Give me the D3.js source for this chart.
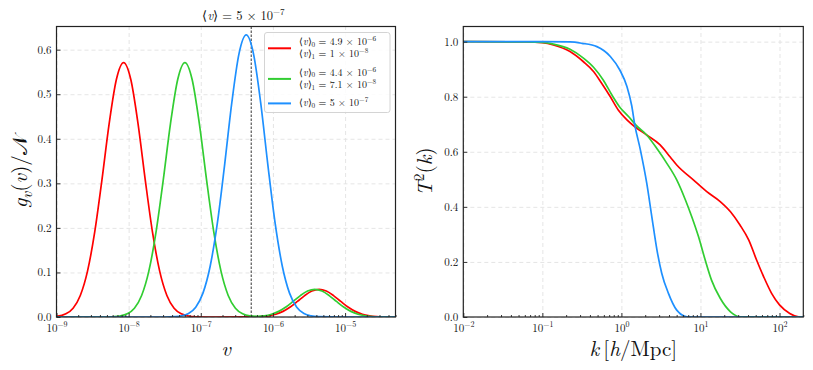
<!DOCTYPE html>
<html>
<head>
<title>Velocity distributions and transfer functions</title>
<script src="https://d3js.org/d3.v7.min.js"></script>
<style>
  body { margin: 0; background: #fff; }
  svg text { font-family: "Latin Modern Roman", "CMU Serif", "Liberation Serif", serif; fill: #111; }
  .grid line { stroke: #e2e2e2; stroke-dasharray: 4,3; stroke-width: 0.9; }
  .grid path, .axis path { display: none; }
  .axis line { stroke: #222; stroke-width: 0.9; }
  .frame { fill: none; stroke: #222; stroke-width: 1.2; }
  .curve { fill: none; stroke-width: 1.7; }
</style>
</head>
<body>
<svg width="813" height="370"></svg>
<script>
// ---- left panel: g_v(v)/N against v (log10 v) ----
var vTickExps = [-9, -8, -7, -6, -5];
var gTicks = [0, 0.1, 0.2, 0.3, 0.4, 0.5, 0.6];
var vLimits = [1e-9, 5e-5];
var gLimits = [0, 0.652];
var vMean = 5e-7;

var redLogV = [-9.0, -8.87, -8.77, -8.67, -8.57, -8.47, -8.37, -8.27, -8.17, -8.07, -7.97, -7.87, -7.77, -7.67, -7.57, -7.47, -7.37, -7.27, -7.17, -7.07, -6.8, -6.36, -6.26, -6.16, -6.06, -5.96, -5.86, -5.76, -5.66, -5.56, -5.46, -5.36, -5.26, -5.16, -5.06, -4.96, -4.86, -4.76, -4.66, -4.56, -4.46, -4.36, -4.3];
var redG = [0.0015, 0.0071, 0.0198, 0.0484, 0.103, 0.191, 0.308, 0.434, 0.533, 0.571, 0.533, 0.434, 0.308, 0.191, 0.103, 0.0484, 0.0198, 0.0071, 0.0022, 0.0006, 0, 0.0001, 0.0004, 0.0010, 0.0027, 0.0062, 0.0126, 0.0223, 0.0349, 0.0481, 0.0582, 0.062, 0.0582, 0.0481, 0.0349, 0.0223, 0.0126, 0.0062, 0.0027, 0.0010, 0.0004, 0.0001, 0];

var greenLogV = [-9.0, -8.3, -8.22, -8.12, -8.02, -7.92, -7.82, -7.72, -7.62, -7.52, -7.42, -7.32, -7.22, -7.12, -7.02, -6.92, -6.82, -6.72, -6.62, -6.52, -6.42, -6.32, -6.22, -6.12, -6.02, -5.92, -5.82, -5.72, -5.62, -5.52, -5.42, -5.32, -5.22, -5.12, -5.02, -4.92, -4.82, -4.72, -4.62, -4.52, -4.42, -4.3];
var greenG = [0, 0, 0.0006, 0.0022, 0.0071, 0.0198, 0.0484, 0.103, 0.191, 0.308, 0.434, 0.533, 0.571, 0.533, 0.434, 0.308, 0.191, 0.103, 0.0484, 0.0198, 0.0071, 0.0026, 0.0016, 0.0027, 0.0062, 0.0126, 0.0223, 0.0349, 0.0481, 0.0582, 0.062, 0.0582, 0.0481, 0.0349, 0.0223, 0.0126, 0.0062, 0.0027, 0.0010, 0.0004, 0.0001, 0];

var blueLogV = [-9.0, -7.5, -7.37, -7.27, -7.17, -7.07, -6.97, -6.87, -6.77, -6.67, -6.57, -6.47, -6.37, -6.27, -6.17, -6.07, -5.97, -5.87, -5.77, -5.67, -5.57, -5.47, -5.37, -5.0, -4.3];
var blueG = [0, 0, 0.0007, 0.0024, 0.0078, 0.022, 0.0536, 0.114, 0.211, 0.341, 0.481, 0.591, 0.633, 0.591, 0.481, 0.341, 0.211, 0.114, 0.0536, 0.022, 0.0078, 0.0024, 0.0007, 0, 0];

// ---- right panel: T^2(k) against k [h/Mpc] ----
var kTickExps = [-2, -1, 0, 1, 2];
var tTicks = [0, 0.2, 0.4, 0.6, 0.8, 1.0];
var kLimits = [1e-2, 200];
var tLimits = [0, 1.055];

var redLogK = [-2.0, -1.2, -1.0, -0.86, -0.65, -0.48, -0.35, -0.25, -0.14, -0.04, 0.07, 0.17, 0.32, 0.49, 0.62, 0.70, 0.91, 1.08, 1.25, 1.38, 1.50, 1.61, 1.71, 1.80, 1.90, 2.0, 2.13, 2.24, 2.3];
var redT = [1.0, 0.999, 0.996, 0.988, 0.964, 0.927, 0.891, 0.849, 0.800, 0.752, 0.716, 0.691, 0.661, 0.625, 0.58, 0.552, 0.498, 0.455, 0.419, 0.382, 0.334, 0.280, 0.207, 0.146, 0.086, 0.044, 0.013, 0.001, 0];

var greenLogK = [-2.0, -1.2, -1.0, -0.86, -0.65, -0.48, -0.35, -0.23, -0.12, -0.02, 0.09, 0.19, 0.32, 0.46, 0.575, 0.70, 0.81, 0.89, 0.975, 1.06, 1.14, 1.25, 1.38, 1.5, 2.3];
var greenT = [1.0, 0.999, 0.997, 0.991, 0.972, 0.940, 0.906, 0.861, 0.806, 0.762, 0.728, 0.695, 0.661, 0.607, 0.558, 0.498, 0.425, 0.364, 0.292, 0.207, 0.134, 0.068, 0.019, 0.001, 0];

var blueLogK = [-2.0, -1.0, -0.65, -0.5, -0.31, -0.14, -0.02, 0.07, 0.13, 0.17, 0.24, 0.32, 0.385, 0.45, 0.51, 0.595, 0.70, 0.83, 1.0, 2.3];
var blueT = [1.0, 1.0, 0.999, 0.994, 0.982, 0.946, 0.897, 0.837, 0.768, 0.697, 0.607, 0.487, 0.364, 0.243, 0.159, 0.086, 0.025, 0.001, 0, 0];

var colors = ["#ff0000", "#32cd32", "#1e90ff"];

// legend: <v>_sub = mant x 10^exp, one or two lines per curve
var legendRows = [
  [["0", "4.9", "\u22126"], ["1", "1", "\u22128"]],
  [["0", "4.4", "\u22126"], ["1", "7.1", "\u22128"]],
  [["0", "5", "\u22127"]]
];

var svg = d3.select("svg");

// writes pieces into a text element; flags: i = italic, _ = subscript, ^ = superscript
function rich(t, fs, parts, subShift) {
  var shift = 0;
  parts.forEach(function(p) {
    var f = p[1] || "";
    var target = f.indexOf("_") >= 0 ? fs * (subShift || 0.22) : (f.indexOf("^") >= 0 ? -fs * 0.4 : 0);
    var ts = t.append("tspan").text(p[0]).attr("dy", target - shift);
    shift = target;
    if (target !== 0) ts.attr("font-size", fs * 0.72);
    if (f.indexOf("i") >= 0) ts.attr("font-style", "italic");
  });
}

function minorTicks(exps, hi) {
  var out = [];
  exps.forEach(function(e) {
    for (var m = 2; m <= 9; m++) {
      var v = m * Math.pow(10, e);
      if (v <= hi * 1.0001) out.push(v);
    }
  });
  return out;
}

function panel(opts) {
  var x = opts.x, y = opts.y;
  var x0 = x.range()[0], x1 = x.range()[1], y0 = y.range()[1], y1 = y.range()[0];
  var majors = opts.tickExps.map(function(e) { return Math.pow(10, e); });

  // grid
  svg.append("g").attr("class", "grid")
     .attr("transform", "translate(0," + y1 + ")")
     .call(d3.axisBottom(x).tickValues(majors).tickSize(-(y1 - y0)).tickFormat(""));
  svg.append("g").attr("class", "grid")
     .attr("transform", "translate(" + x0 + ",0)")
     .call(d3.axisLeft(y).tickValues(opts.yTicks).tickSize(-(x1 - x0)).tickFormat(""));

  svg.append("clipPath").attr("id", opts.id)
     .append("rect").attr("x", x0).attr("y", y0).attr("width", x1 - x0).attr("height", y1 - y0);

  var plot = svg.append("g").attr("clip-path", "url(#" + opts.id + ")");

  if (opts.marker) {
    plot.append("line")
        .attr("x1", x(opts.marker)).attr("x2", x(opts.marker))
        .attr("y1", y0).attr("y2", y1)
        .attr("stroke", "#000").attr("stroke-width", 0.8)
        .attr("stroke-dasharray", "2.5,1.5");
  }

  var line = d3.line()
      .x(function(d) { return x(Math.pow(10, d[0])); })
      .y(function(d) { return y(d[1]); })
      .curve(d3.curveMonotoneX);

  opts.series.forEach(function(s, i) {
    plot.append("path").attr("class", "curve")
        .attr("stroke", colors[i])
        .attr("d", line(d3.zip(s[0], s[1])));
  });

  svg.append("rect").attr("class", "frame")
     .attr("x", x0).attr("y", y0).attr("width", x1 - x0).attr("height", y1 - y0);

  // ticks pointing inward
  svg.append("g").attr("class", "axis")
     .attr("transform", "translate(0," + y1 + ")")
     .call(d3.axisBottom(x).tickValues(minorTicks(opts.tickExps, x.domain()[1])).tickSize(-2).tickFormat(""));
  svg.append("g").attr("class", "axis")
     .attr("transform", "translate(0," + y1 + ")")
     .call(d3.axisBottom(x).tickValues(majors).tickSize(-4).tickFormat(""));
  svg.append("g").attr("class", "axis")
     .attr("transform", "translate(" + x0 + ",0)")
     .call(d3.axisLeft(y).tickValues(opts.yTicks).tickSize(-4).tickPadding(5).tickFormat(d3.format(".1f")))
     .selectAll("text").attr("font-size", 11).attr("font-family", null);

  opts.tickExps.forEach(function(e) {
    var t = svg.append("text")
        .attr("x", x(Math.pow(10, e)) + 0.5).attr("y", y1 + 14.5)
        .attr("text-anchor", "middle").attr("font-size", 11);
    rich(t, 11, [["10", ""], [e < 0 ? "\u2212" + (-e) : "" + e, "^"]]);
  });

  var xl = svg.append("text")
      .attr("x", (x0 + x1) / 2).attr("y", 355.5)
      .attr("text-anchor", "middle").attr("font-size", 21);
  rich(xl, 21, opts.xLabel);

  var yl = svg.append("text")
      .attr("transform", "translate(" + opts.yLabelX + "," + (y0 + y1) / 2 + ") rotate(-90)")
      .attr("text-anchor", "middle").attr("font-size", 21);
  rich(yl, 21, opts.yLabel);
}

var xV = d3.scaleLog().domain(vLimits).range([56.5, 395.5]);
var yG = d3.scaleLinear().domain(gLimits).range([317, 26.5]);
var xK = d3.scaleLog().domain(kLimits).range([463.3, 803.3]);
var yT = d3.scaleLinear().domain(tLimits).range([317, 26.5]);

panel({
  id: "clipL", x: xV, y: yG, tickExps: vTickExps, yTicks: gTicks, marker: vMean,
  series: [[redLogV, redG], [greenLogV, greenG], [blueLogV, blueG]],
  xLabel: [["v", "i"]],
  yLabel: [["g", "i"], ["v", "i_"], ["(", ""], ["v", "i"], [")/", ""], ["\ud835\udca9", ""]],
  yLabelX: 27
});

panel({
  id: "clipR", x: xK, y: yT, tickExps: kTickExps, yTicks: tTicks,
  series: [[redLogK, redT], [greenLogK, greenT], [blueLogK, blueT]],
  xLabel: [["k", "i"], ["\u2009[", ""], ["h", "i"], ["/Mpc]", ""]],
  yLabel: [["T", "i"], ["2", "^"], ["(", ""], ["k", "i"], [")", ""]],
  yLabelX: 432
});

// title over the left panel
var title = svg.append("text")
    .attr("x", 243.5).attr("y", 19.5)
    .attr("text-anchor", "middle").attr("font-size", 12.5);
rich(title, 12.5, [["\u27e8", ""], ["v", "i"], ["\u27e9 = 5 \u00d7 10", ""], ["\u22127", "^"]]);

// legend
var lg = svg.append("g");
lg.append("rect")
  .attr("x", 264.5).attr("y", 32.5).attr("width", 125.5).attr("height", 80)
  .attr("rx", 2.5).attr("fill", "#fff").attr("fill-opacity", 0.85)
  .attr("stroke", "#cfcfcf").attr("stroke-width", 0.9);

var cy = 41.7, lineStep = 12.2, rowGap = 6.2;
legendRows.forEach(function(rows, i) {
  var mid = cy + (rows.length - 1) * lineStep / 2;
  lg.append("line")
    .attr("x1", 268).attr("x2", 291).attr("y1", mid + 0.5).attr("y2", mid + 0.5)
    .attr("stroke", colors[i]).attr("stroke-width", 2);
  rows.forEach(function(r, j) {
    var t = lg.append("text").attr("x", 299).attr("y", cy + j * lineStep + 3.4).attr("font-size", 10);
    rich(t, 10, [["\u27e8", ""], ["v", "i"], ["\u27e9", ""], [r[0], "_"],
                 [" = " + r[1] + " \u00d7 10", ""], [r[2], "^"]], 0.16);
  });
  cy += rows.length * lineStep + rowGap;
});
</script>
</body>
</html>
